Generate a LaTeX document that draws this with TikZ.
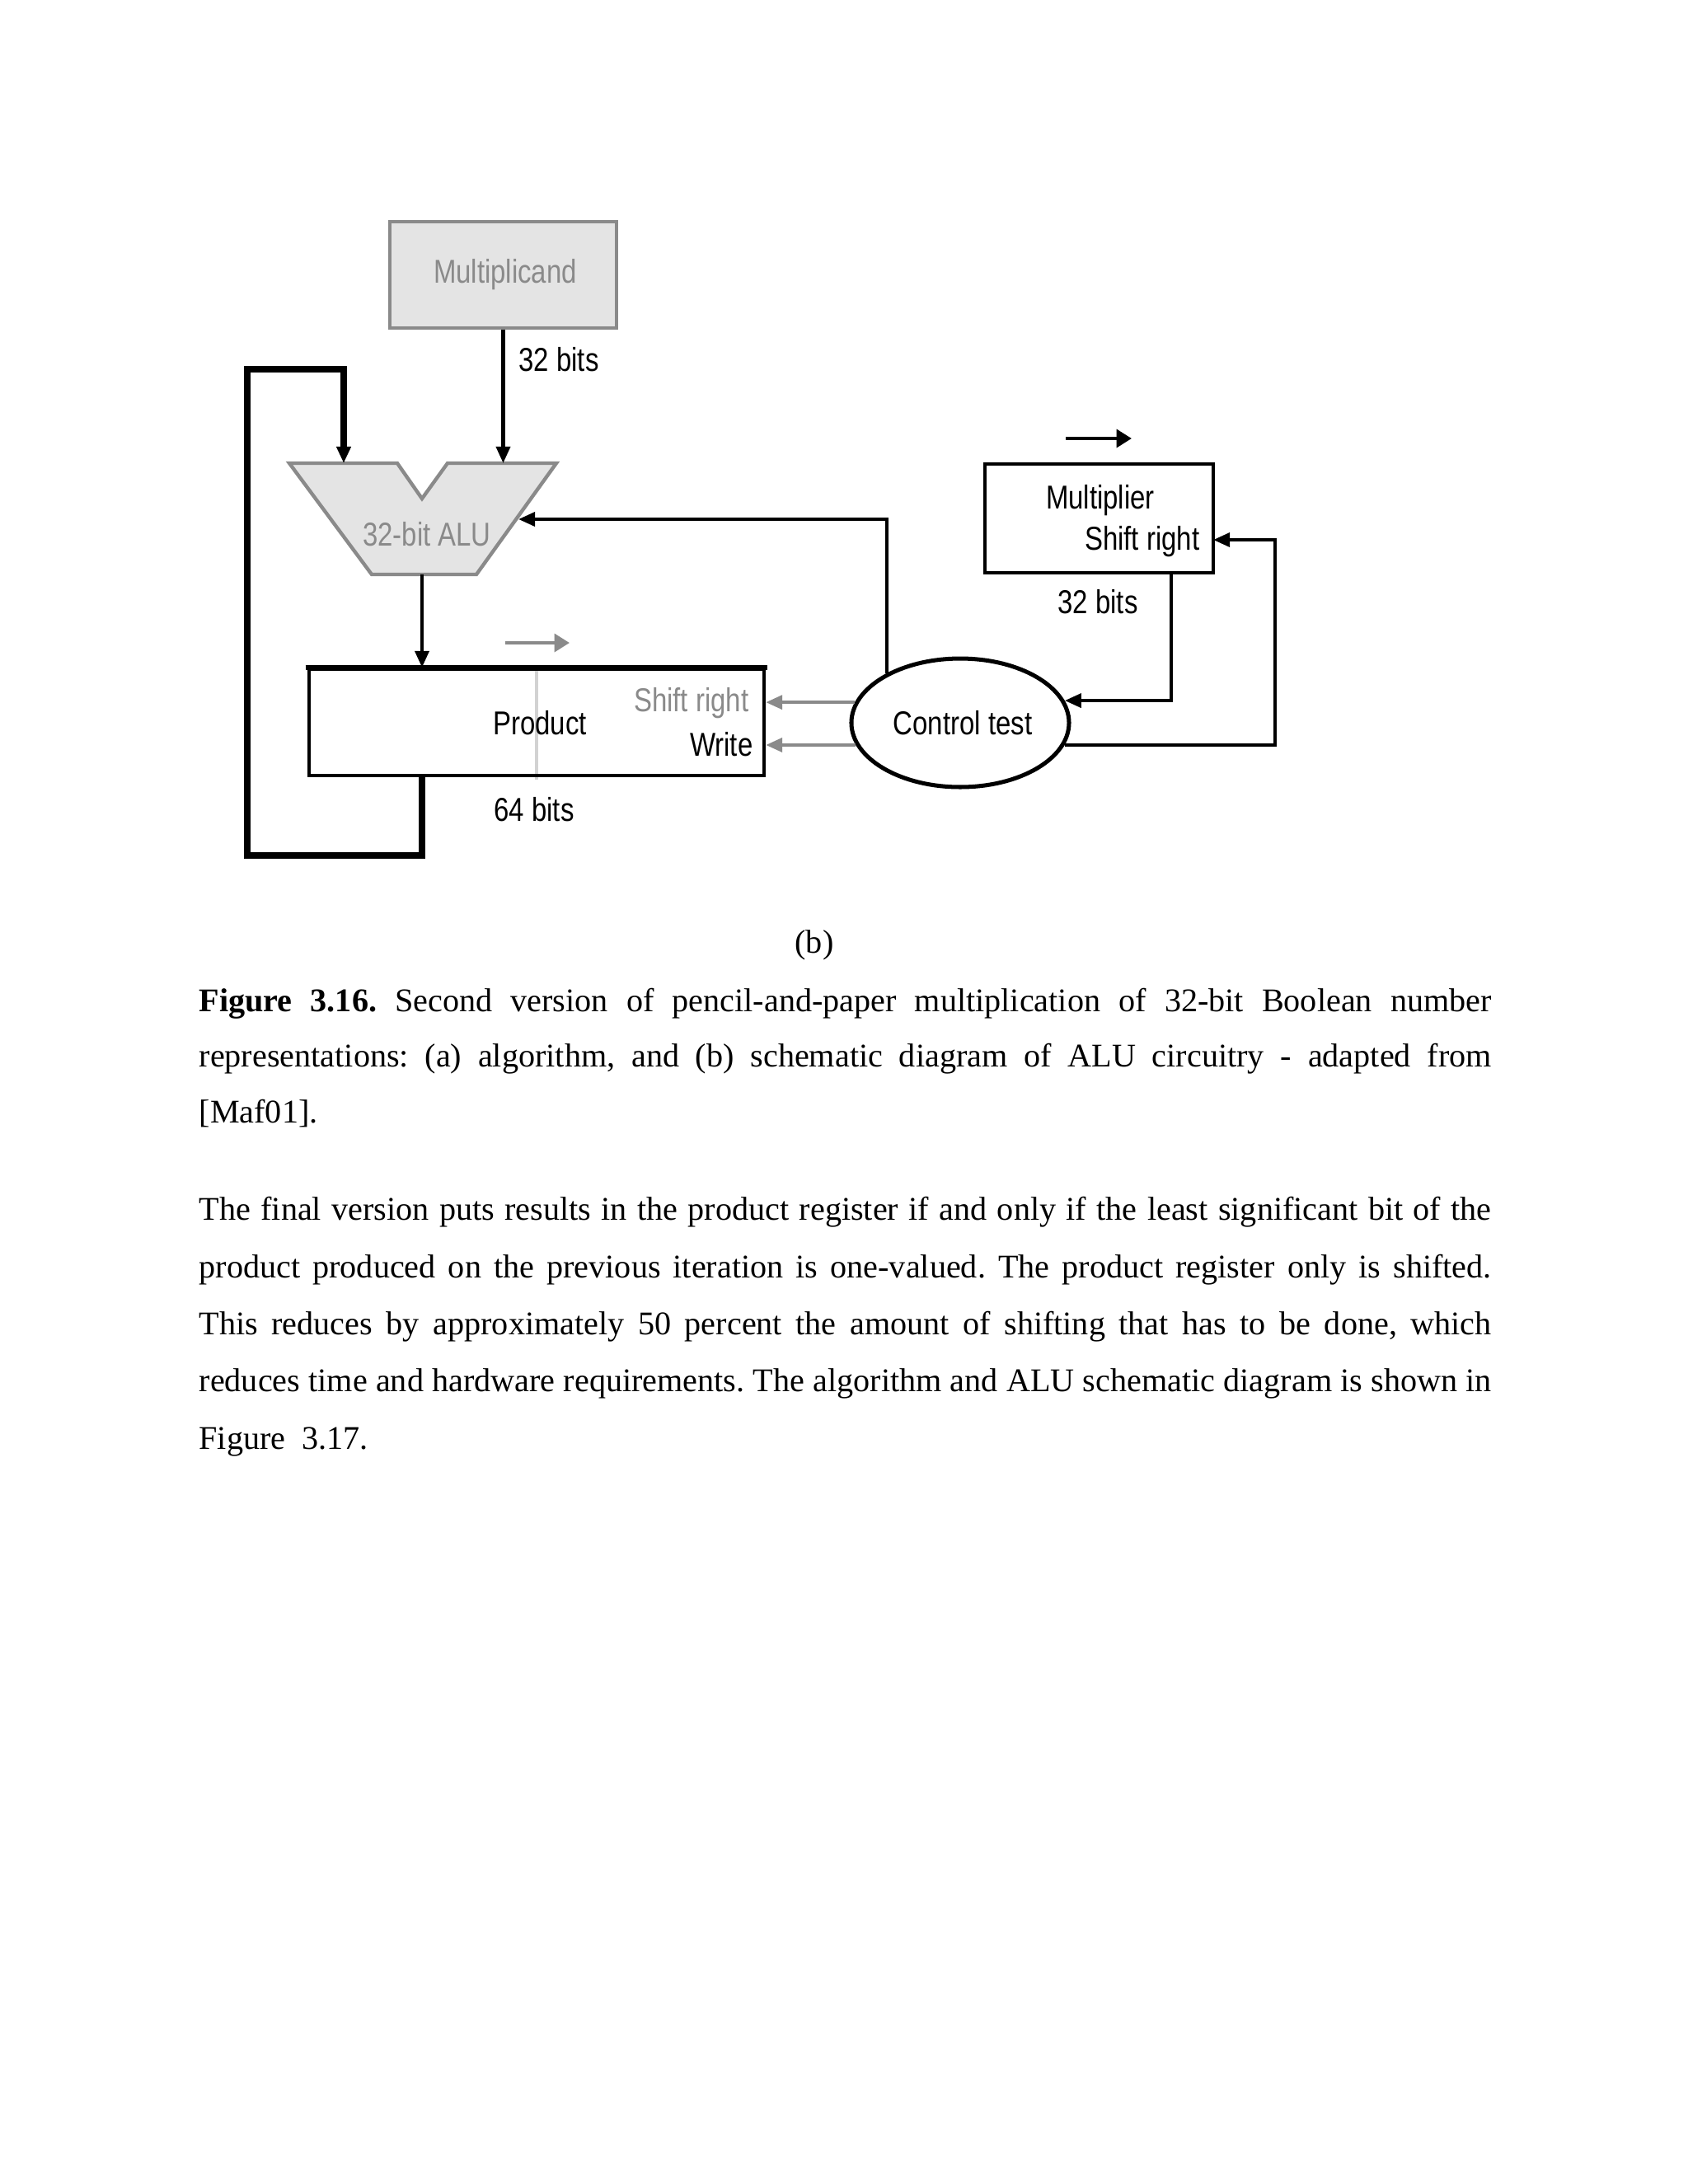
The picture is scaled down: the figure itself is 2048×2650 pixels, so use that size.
\documentclass[tikz,border=0pt]{standalone}
\usepackage{fontspec}
\setmainfont{Liberation Serif}
\newfontfamily\diag[FakeStretch=0.82]{Liberation Sans}
\usetikzlibrary{arrows.meta,shapes.geometric}
\definecolor{lgray}{HTML}{E4E4E4}
\definecolor{mgray}{HTML}{8A8A8A}
\definecolor{vlgray}{HTML}{D2D2D2}
\frenchspacing
\begin{document}
\begin{tikzpicture}[x=0.2988pt,y=-0.2988pt,
  lbl/.style={font=\diag\fontsize{12pt}{14pt}\selectfont, inner sep=0pt},
  graylbl/.style={lbl, text=mgray},
  arr/.style={-{Triangle[length=6pt,width=5pt]}},
  wire/.style={line width=1.3pt, black},
  thickwire/.style={line width=2.2pt, black},
  graywire/.style={line width=1.3pt, mgray},
  regbox/.style={draw, line width=1.3pt, inner sep=0pt},
  captxt/.style={font=\fontsize{12pt}{14pt}\selectfont\frenchspacing, anchor=base west, inner sep=0pt}]
\useasboundingbox[fill=white] (0,0) rectangle (2048,2650);

% Multiplicand
\node[regbox, draw=mgray, fill=lgray, minimum width=82.2pt, minimum height=38.5pt] (mcand) at (610.5,333.5) {};
\node[graylbl] (mcandt) at (613,333) {Multiplicand};

% ALU
\draw[line width=1.3pt, draw=mgray, fill=lgray, line join=miter]
  (351,562) -- (482,562) -- (512,605) -- (543,562) -- (675,562) -- (578,697) -- (451,697) -- cycle;
\node[graylbl] (alut) at (518,648) {32-bit ALU};
\coordinate (aluIn1) at (417,562);
\coordinate (aluIn2) at (610.5,562);
\coordinate (aluB) at (512,697);
\coordinate (aluSide) at (629,630);

% Product register
\draw[vlgray, line width=1.2pt] (651,812) -- (651,946);
\node[regbox, minimum width=164.9pt, minimum height=38.5pt] (prod) at (651,876.5) {};
\draw[line width=2pt] ([xshift=-0.65pt]prod.north west) -- ([xshift=0.65pt]prod.north east);
\node[lbl] (prodt) at (655,877) {Product};
\node[graylbl, anchor=east] (prodsr) at (909,853) {Shift right};
\node[lbl, anchor=east] (prodw) at (914,903) {Write};
\node[lbl] (bits64) at (648,982) {64 bits};
\coordinate (psA) at (613,780);
\coordinate (psB) at (691,780);
\draw[graywire, -{Triangle[length=5.5pt,width=6.5pt]}] (psA) -- (psB);

% Multiplier register
\node[regbox, minimum width=82.8pt, minimum height=39.4pt] (mult) at (1333.5,629) {};
\node[lbl] (multt) at (1335,607) {Multiplier};
\node[lbl, anchor=east] (multsr) at (1456,657) {Shift right};
\node[lbl] (bits32b) at (1332,730) {32 bits};
\coordinate (msA) at (1293,532);
\coordinate (msB) at (1373,532);
\draw[wire, -{Triangle[length=5.5pt,width=6.5pt]}] (msA) -- (msB);
\coordinate (mb) at (1421,695);
\coordinate (mrc) at (1547,655);
\coordinate (msr) at (1472,655);

% Control test
\node[draw, ellipse, line width=1.5pt, inner sep=0pt, minimum width=78.9pt, minimum height=46.6pt] (ctrl) at (1165,877) {};
\node[lbl] (ctrlt) at (1168,877) {Control test};

% Connectors
\draw[wire, arr] (mcand.south) -- (aluIn2);
\node[lbl] (bits32a) at (678,436) {32 bits};
\draw[wire, arr] (aluB) -- (aluB |- prod.north);
\coordinate (loopBL) at (300,1038);
\coordinate (loopTL) at (300,448);
\draw[thickwire, arr, line join=miter] (aluB |- prod.south) |- (loopBL) -- (loopTL) -| (aluIn1);
\draw[wire, arr] (ctrl.146) |- (aluSide);
\draw[graywire, arr] (ctrl.169) -- (ctrl.169 -| prod.east);
\draw[graywire, arr] (ctrl.192) -- (ctrl.192 -| prod.east);
\draw[wire, arr] (mb) |- (ctrl.12);
\draw[wire, arr] (ctrl.-12) -| (mrc) -- (msr);

% Caption and text
\node[captxt, anchor=base] (subb) at (988,1156) {(b)};
\node[captxt] (cap1) at (241,1227) {\makebox[468.5pt][s]{\textbf{Figure 3.16.} Second version of pencil-and-paper multiplication of 32-bit Boolean number}};
\node[captxt] (cap2) at (241,1294) {\makebox[468.5pt][s]{representations: (a) algorithm, and (b) schematic diagram of ALU circuitry - adapted from}};
\node[captxt] (cap3) at (241,1362) {[Maf01].};
\node[captxt] (par1) at (241,1480) {\makebox[468.5pt][s]{The final version puts results in the product register if and only if the least significant bit of the}};
\node[captxt] (par2) at (241,1550) {\makebox[468.5pt][s]{product produced on the previous iteration is one-valued. The product register only is shifted.}};
\node[captxt] (par3) at (241,1619) {\makebox[468.5pt][s]{This reduces by approximately 50 percent the amount of shifting that has to be done, which}};
\node[captxt] (par4) at (241,1688) {\makebox[468.5pt][s]{reduces time and hardware requirements. The algorithm and ALU schematic diagram is shown in}};
\node[captxt] (par5) at (241,1758) {Figure\ \ 3.17.};
\end{tikzpicture}
\end{document}
